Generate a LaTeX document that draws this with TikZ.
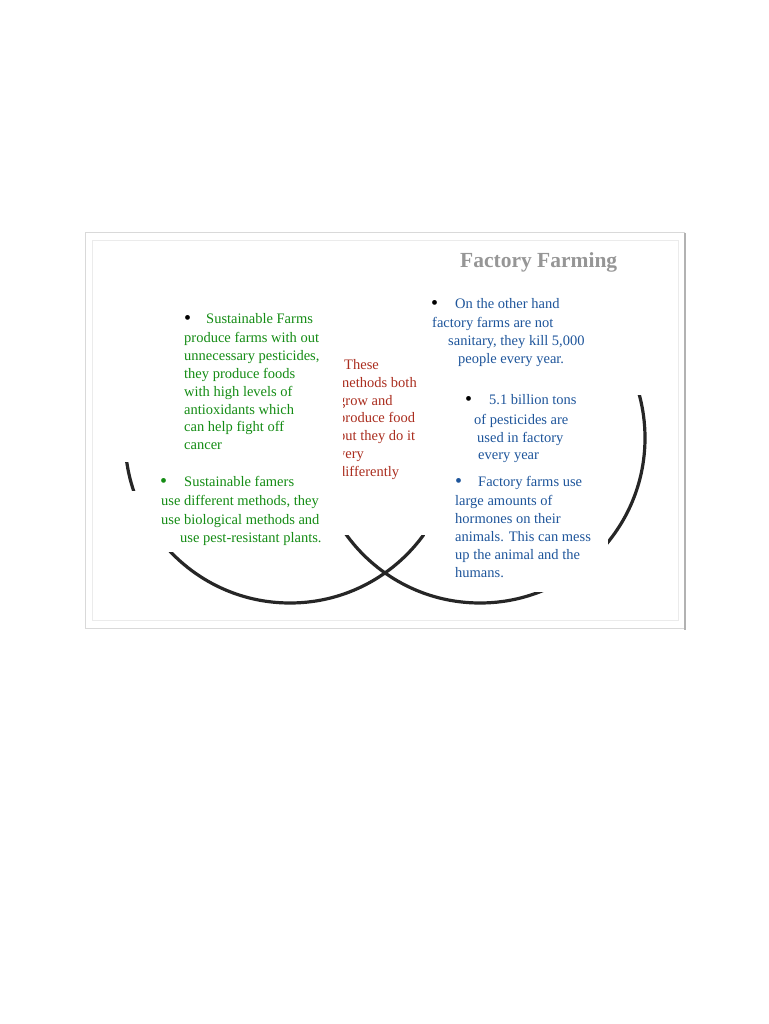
\documentclass[tikz,border=0pt]{standalone}
\usepackage{fontspec}
\setmainfont{Liberation Serif}
\definecolor{gr}{RGB}{20,140,20}
\definecolor{bl}{RGB}{30,85,155}
\definecolor{rd}{RGB}{170,45,30}
\definecolor{tg}{RGB}{150,150,150}
\begin{document}
\begin{tikzpicture}[x=1pt,y=-1pt,
  txt/.style={anchor=base west,inner sep=0pt,font=\fontsize{14.5}{18}\selectfont},
  bul/.style={anchor=base west,inner sep=0pt,font=\fontsize{20}{18}\selectfont},
  cover/.style={fill=white,draw=none},
  ring/.style={draw=black!85,line width=3.2pt}]
\useasboundingbox (0,0) rectangle (768,1024);
\draw[draw=black!15,line width=1pt] (85,233) rectangle (684,628);
\draw[draw=black!8,line width=1pt] (92,240) rectangle (678,620);
\draw[draw=black!30,line width=2.5pt] (685,233) -- (685,630);
% circles
\node[circle,minimum size=330pt,inner sep=0pt,ring] (cl) at (290,438) {};
\node[circle,minimum size=330pt,inner sep=0pt,ring] (cr) at (480,438) {};
% white covers
\fill[cover] (95,244) rectangle (335,462);
\fill[cover] (136,462) rectangle (335,552);
\fill[cover] (95,491) rectangle (136,552);
\fill[cover] (335,244) rectangle (425,535);
\fill[cover] (425,244) rectangle (660,395);
\fill[cover] (425,395) rectangle (608,592);
% title
\node[anchor=base west,inner sep=0pt,text=tg,font=\fontsize{21.5}{24}\selectfont\bfseries] (title) at (460,267) {Factory Farming};
% left texts
\foreach \t/\x/\y [count=\i] in {
  Sustainable Farms/206/323, produce farms with out/184/342, {unnecessary pesticides,}/184/360,
  they produce foods/184/378, with high levels of/184/396, antioxidants which/184/414,
  can help fight off/184/431, cancer/184/449,
  Sustainable famers/184/486, {use different methods, they}/161/505, use biological methods and/161/524,
  use pest-resistant plants./180/542}
  \node[txt,text=gr] (g\i) at (\x,\y) {\t};
\node[bul] (b1) at (184,324) {•};
\node[bul,text=gr] (b2) at (160,487) {•};
% middle
\begin{scope}
\clip (343,340) rectangle (430,490);
\foreach \t/\x/\y [count=\i] in {These/344/369, methods both/338/387, grow and/338/405,
  produce food/338/422, but they do it/338/440, very/338/458, differently/338/476}
  \node[txt,text=rd] (m\i) at (\x,\y) {\t};
\end{scope}
% right
\foreach \t/\x/\y [count=\i] in {
  On the other hand/455/308, factory farms are not/432/327, {sanitary, they kill 5,000}/448/345,
  people every year./458/363,
  5.1 billion tons/489/404, of pesticides are/474/424, used in factory/477/442, every year/478/459,
  Factory farms use/478/486, large amounts of/455/505, hormones on their/455/523,
  animals. This can mess/455/541, up the animal and the/455/559, humans./455/577}
  \node[txt,text=bl] (r\i) at (\x,\y) {\t};
\node[bul] (b3) at (431,309) {•};
\node[bul] (b4) at (465,405) {•};
\node[bul,text=bl] (b5) at (455,487) {•};
\end{tikzpicture}
\end{document}
